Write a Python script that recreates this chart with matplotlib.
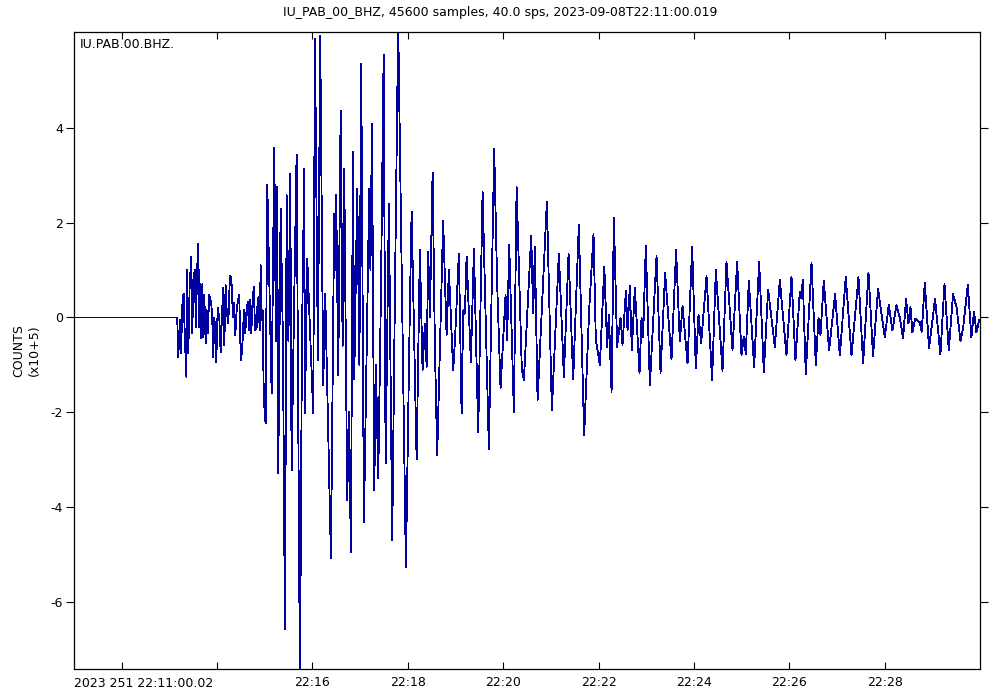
import numpy as np
import matplotlib
matplotlib.use('Agg')
import matplotlib.pyplot as plt

# ── Trace values ────────────────────────────────────────────────────────────
# seconds after 2023-09-08T22:11:00.019, amplitude in units of 1e5 counts
t_pre = [0.0, 129.9]
a_pre = [0.0, 0.0]

t_p = [131.2, 133.3, 134.6, 136.7, 138.0, 139.2, 141.3, 142.5, 143.8, 145.5,
       147.6, 148.8, 150.1, 151.8, 153.5, 154.7, 156.4, 157.6, 158.9, 160.1,
       161.4, 162.6, 163.9, 165.7, 166.9, 168.2, 170.2, 172.7, 174.0, 175.2,
       176.5, 177.7, 179.0, 180.8, 182.8, 184.5, 186.2, 187.8, 189.1, 190.8,
       192.1, 194.1, 196.2, 197.9, 199.1, 200.4, 201.6, 202.9, 204.7, 206.3,
       207.9, 209.2, 210.4, 212.2, 213.8, 215.5, 217.2, 218.9, 220.1, 221.4,
       223.0, 224.8, 226.4, 227.7, 229.8, 231.1, 232.3, 233.6, 234.9, 236.1,
       237.4, 238.6, 239.9, 241.1]
a_p = [-0.83, -0.05, -0.76, 0.44, 0.5, -0.27, -1.25, 1.0, -0.76, 0.65,
       1.28, -0.34, 0.7, 1.0, -0.2, 0.9, 1.55, -0.2, 0.7, -0.44,
       0.7, -0.41, 0.47, -0.55, 0.15, -0.34, 0.47, 0.3, -0.05, -0.83,
       0.0, -0.27, -0.94, 0.2, 0.0, -0.73, 0.05, 0.63, -0.58, 0.68,
       0.15, -0.13, 0.87, 0.85, 0.37, 0.0, 0.3, -0.37, 0.15, 0.37,
       0.47, -0.48, -0.9, -0.48, 0.15, -0.34, 0.19, 0.33, -0.27, 0.37,
       -0.34, 0.37, 0.65, -0.27, -0.2, 0.37, 0.44, -0.27, 1.1, -0.06,
       0.15, -1.46, -2.03, -2.24]

t_s = [243.2, 248.7, 252.0, 254.1, 255.7, 257.0, 260.0, 262.9, 265.4, 267.6,
       269.8, 272.1, 273.8, 276.7, 280.1, 284.3, 286.8, 289.7, 290.6, 293.5,
       301.0, 303.2, 306.9, 309.8, 313.6, 316.1, 323.3, 327.4, 328.9, 329.9,
       332.5, 335.5, 338.0, 340.0, 343.8, 345.9, 348.4, 351.0, 352.6, 356.4,
       359.1, 361.4, 364.8, 371.5, 373.0, 374.9, 377.8, 379.9, 382.8, 386.2,
       389.6, 392.1, 396.2, 400.4, 403.8, 407.9, 417.6, 422.7, 424.8, 431.1,
       435.2, 438.6, 441.5, 443.7, 445.7, 447.8, 451.2, 454.1, 457.0, 464.5,
       468.8, 471.7, 477.1, 479.3, 484.3, 487.7, 489.7, 491.8, 494.0, 499.4,
       503.2, 508.6, 514.1, 522.0, 528.7, 532.5, 536.7, 543.0, 545.0, 547.6,
       553.5, 556.9, 563.5, 566.1, 575.3, 577.8, 579.9, 583.3, 595.0, 601.3,
       610.1, 616.4, 622.3, 628.1, 635.2, 641.9, 648.2, 653.7, 656.6, 661.7]
a_s = [2.79, -1.6, 3.58, -0.5, 2.75, -3.28, 2.3, -0.5, -6.57, 2.58,
       -0.5, 3.03, -3.23, 0.0, 3.44, -7.8, -0.5, 3.13, -2.03, 1.24,
       -2.03, 5.87, -0.9, 5.94, -1.43, 0.5, -5.09, 2.18, 1.0, 2.58,
       -1.22, 4.36, -0.6, 3.14, -3.86, -2.0, -4.95, 3.49, -1.3, 2.72,
       -1.0, 5.36, -4.32, 2.72, 1.0, 4.09, -3.65, -1.0, -3.4, 0.5,
       5.54, -3.08, 2.4, -4.7, 0.5, 6.2, -5.27, 0.3, 2.23, -3.0,
       1.42, -1.11, -0.13, -1.04, 1.39, 0.0, 3.06, -0.62, -2.9, 2.04,
       -0.37, 1.0, -1.11, -0.5, 1.35, -2.03, 0.15, 0.08, 1.28, -0.94,
       1.44, -2.42, 2.65, -2.77, 3.55, 0.68, -1.5, 0.47, -0.48, 1.53,
       -1.99, 2.75, -1.11, -1.32, 1.72, 0.08, 1.48, -1.75, 2.44, -1.96,
       1.35, -1.25, 1.35, -1.31, 1.95, -2.49, 0.15, 1.76, -0.48, -1.0]

t_c = [667.3, 670.8, 673.0, 676.4, 679.3, 683.4, 687.7, 690.2, 694.4, 696.5,
       699.4, 701.9, 705.7, 711.6, 714.1, 716.1, 719.5, 724.6, 733.0, 738.0,
       743.8, 751.8, 757.6, 762.3, 765.7, 772.0, 777.8, 782.4, 785.8, 789.1,
       795.9, 802.9, 807.6, 816.0, 821.0, 828.6, 834.4, 839.9, 842.8, 845.3,
       849.1, 855.8, 862.1, 868.0, 873.4, 881.8, 888.1, 896.5, 902.8, 907.8,
       913.2, 915.4, 917.0, 920.8, 928.0, 933.4, 936.8, 939.3, 943.4, 950.1,
       957.7, 963.6, 971.1, 978.3, 987.1, 992.9, 999.7, 1005.4, 1011.7, 1020.2,
       1025.2, 1029.8, 1034.9, 1039.0, 1043.2, 1047.0, 1050.0, 1052.5, 1055.0, 1058.3,
       1064.2, 1066.7, 1070.5, 1075.9, 1083.4, 1090.2, 1095.3, 1100.7, 1106.1, 1110.4,
       1115.4, 1118.7, 1124.6, 1129.2, 1132.5, 1135.5, 1138.8]
a_c = [1.07, -0.62, 0.06, -1.57, 2.11, -0.62, 0.0, -0.58, 0.56, -0.27,
       0.66, -0.69, 0.63, -1.18, 0.0, -0.41, 1.51, -1.43, 1.3, -1.17,
       0.93, -0.89, 1.42, -0.51, 0.24, -0.97, 1.48, -1.08, 0.05, -0.55,
       0.87, -1.32, 1.0, -1.13, 1.17, -0.69, 1.18, -0.8, -0.41, -0.77,
       0.77, -1.04, 1.17, -1.15, 0.59, -0.62, 0.79, -0.8, 0.86, -0.9,
       0.54, 0.4, 0.8, -1.2, 1.15, -1.0, 0.0, -0.37, 0.77, -0.69,
       0.49, -0.8, 0.85, -0.8, 0.85, -0.97, 0.95, -0.81, 0.6, -0.42,
       0.26, -0.27, 0.26, 0.0, -0.44, 0.39, -0.13, 0.22, -0.32, -0.03,
       -0.1, -0.3, 0.73, -0.65, 0.39, -0.78, 0.7, -0.69, 0.49, 0.22,
       -0.49, -0.23, 0.68, -0.42, 0.12, -0.32, -0.06]

xtick_sec = [60, 180, 300, 420, 540, 660, 780, 900, 1020]
xtick_lbl = ['', '', '22:16', '22:18', '22:20', '22:22', '22:24', '22:26', '22:28']
ytick_val = [-6, -4, -2, 0, 2, 4]

t = np.array(t_pre + t_p + t_s + t_c)
amp = np.array(a_pre + a_p + a_s + a_c)

# ── Figure ──────────────────────────────────────────────────────────────────
plt.rcParams['font.family'] = 'DejaVu Sans'
fs = 9
fig = plt.figure(figsize=(10, 7), dpi=100, facecolor='white')
ax = fig.add_axes([0.074, 0.0443, 0.906, 0.9104])

ax.plot(t, amp, color='#0000a0', linewidth=0.6, antialiased=False)

ax.set_xlim(0, 1140)
ax.set_ylim(-7.42, 6.03)

ax.set_xticks(xtick_sec)
ax.set_xticklabels(xtick_lbl)
ax.set_yticks(ytick_val)
ax.set_yticklabels([str(v) for v in ytick_val])

ax.tick_params(axis='x', which='both', direction='in', length=5, width=0.8,
               top=True, bottom=True, labelsize=fs, pad=5)
ax.tick_params(axis='y', which='both', direction='out', length=6, width=0.8,
               left=True, right=True, labelsize=fs, pad=2)
for sp in ax.spines.values():
    sp.set_linewidth(0.9)

ax.text(0, -0.012, '2023 251 22:11:00.02', transform=ax.get_xaxis_transform(),
        ha='left', va='top', fontsize=fs)
ax.text(0.006, 0.99, 'IU.PAB.00.BHZ.', transform=ax.transAxes,
        ha='left', va='top', fontsize=fs)
ax.set_ylabel('COUNTS\n(x10+5)', fontsize=fs, labelpad=7, linespacing=1.3)
fig.suptitle('IU_PAB_00_BHZ, 45600 samples, 40.0 sps, 2023-09-08T22:11:00.019',
             fontsize=fs, y=0.992)

fig.savefig('out.png', dpi=100, facecolor='white')
